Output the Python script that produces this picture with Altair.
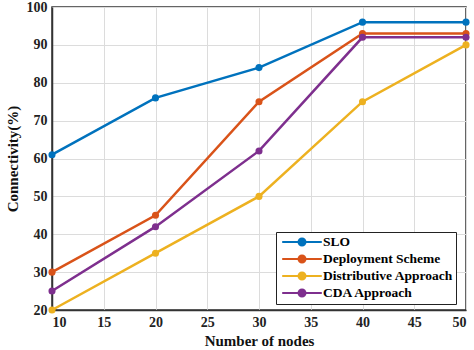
import altair as alt
import pandas as pd

nodes = [10, 20, 30, 40, 50]
slo = [61, 76, 84, 96, 96]
deployment = [30, 45, 75, 93, 93]
distributive = [20, 35, 50, 75, 90]
cda = [25, 42, 62, 92, 92]

series_names = ["SLO", "Deployment Scheme", "Distributive Approach", "CDA Approach"]
series_vals = [slo, deployment, distributive, cda]
colors = ["#0072BD", "#D95319", "#EDB120", "#7E2F8E"]

rows = []
for name, vals in zip(series_names, series_vals):
    for n, v in zip(nodes, vals):
        rows.append({"Nodes": n, "Connectivity": v, "Series": name})
df = pd.DataFrame(rows)

font = "Liberation Serif"
sym = ("M-3.3,0L3.3,0 M-0.58,0 A0.58,0.58 0 1,1 0.58,0 A0.58,0.58 0 1,1 -0.58,0 Z")

color = alt.Color(
    "Series:N",
    scale=alt.Scale(domain=series_names, range=colors),
    sort=series_names,
    legend=alt.Legend(
        title=None,
        orient="none",
        legendX=224,
        legendY=225,
        symbolType=sym,
        symbolSize=144,
        symbolStrokeWidth=2,
        symbolOffset=16,
        labelFont=font,
        labelFontSize=13.5,
        labelFontWeight="bold",
        labelColor="black",
        strokeColor="#222",
        fillColor="white",
        padding=3,
        rowPadding=1,
        labelOffset=14,
        labelLimit=300,
    ),
)

x = alt.X(
    "Nodes:Q",
    scale=alt.Scale(domain=[10, 50], nice=False),
    axis=alt.Axis(values=[10, 15, 20, 25, 30, 35, 40, 45, 50], title="Number of nodes"),
)
y = alt.Y(
    "Connectivity:Q",
    scale=alt.Scale(domain=[20, 100], nice=False),
    axis=alt.Axis(values=list(range(20, 101, 10)), title="Connectivity(%)"),
)

chart = (
    alt.Chart(df)
    .mark_line(strokeWidth=2.5, point=alt.OverlayMarkDef(filled=True, size=50))
    .encode(x=x, y=y, color=color, order="Nodes:Q")
    .properties(
        width=414,
        height=303,
        autosize=alt.AutoSizeParams(type="none"),
        padding={"left": 52, "top": 7, "right": 8, "bottom": 40},
        background="white",
    )
    .configure_view(stroke="#333", strokeWidth=1.5)
    .configure_axis(
        labelFont=font,
        labelFontSize=14,
        labelFontWeight="bold",
        labelColor="#222",
        titleFont=font,
        titleFontSize=15,
        titleFontWeight="bold",
        titleColor="#111",
        gridColor="#dcdcdc",
        gridWidth=1,
        domainColor="#333",
        domainWidth=1.5,
        ticks=False,
        labelPadding=5,
    )
    .configure_axisX(titlePadding=4)
    .configure_axisY(titlePadding=6)
)

chart.save("out.html", embed_options={"renderer": "svg", "actions": False})
